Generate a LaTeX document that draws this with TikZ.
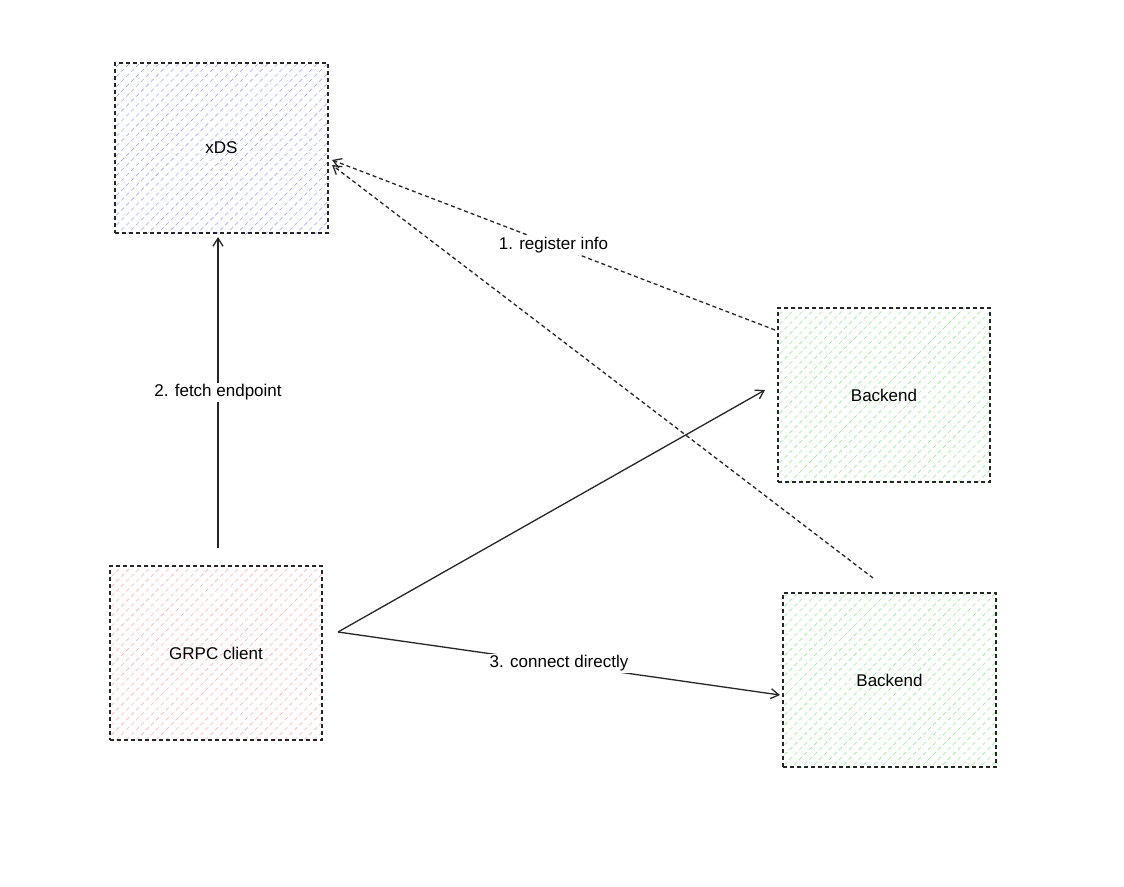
\documentclass[tikz,border=0pt]{standalone}
\usepackage{fontspec}
\setmainfont{Liberation Sans}
\usetikzlibrary{patterns.meta,arrows.meta}
\begin{document}
\begin{tikzpicture}[x=1pt,y=-1pt,
  box/.style={draw=black!85,dashed,line width=1.3pt,dash pattern=on 4pt off 3pt,font=\fontsize{17}{20}\selectfont},
  hb/.style={box,pattern={Lines[angle=45,distance=7pt,line width=0.6pt]},pattern color=#1},
  arr/.style={line width=1.3pt,draw=black!85,-{Straight Barb[length=8pt,width=10pt]}},
  lbl/.style={fill=white,font=\fontsize{17}{20}\selectfont,inner sep=2pt}]
\useasboundingbox (0,0) rectangle (1124,886);
\node[hb=blue!35,minimum width=213pt,minimum height=170pt] (xds) at (221.5,148) {xDS};
\node[hb=green!45!black!35!green!40,minimum width=212pt,minimum height=174pt] (b1) at (884,395) {Backend};
\node[hb=green!45!black!35!green!40,minimum width=213pt,minimum height=174pt] (b2) at (889.5,680) {Backend};
\node[hb=red!30,minimum width=212pt,minimum height=174pt] (gc) at (216,653) {GRPC client};
\coordinate (xa) at (332,160);
\coordinate (xb) at (332,165);
\coordinate (xu) at (218,237);
\coordinate (b1s) at (775,330);
\coordinate (b2s) at (873,578);
\coordinate (gu) at (218,548);
\coordinate (gr) at (338,632);
\coordinate (b1e) at (765,390);
\coordinate (b2e) at (780,695);
\draw[arr] (gu) -- node[lbl]{2. fetch endpoint} (xu);
\draw[arr,dashed,dash pattern=on 4pt off 3pt] (b2s) -- (xb);
\draw[arr,dashed,dash pattern=on 4pt off 3pt] (b1s) -- node[lbl,pos=0.5]{1. register info} (xa);
\draw[arr] (gr) -- (b1e);
\draw[arr] (gr) -- node[lbl,pos=0.5]{3. connect directly} (b2e);
\end{tikzpicture}
\end{document}
